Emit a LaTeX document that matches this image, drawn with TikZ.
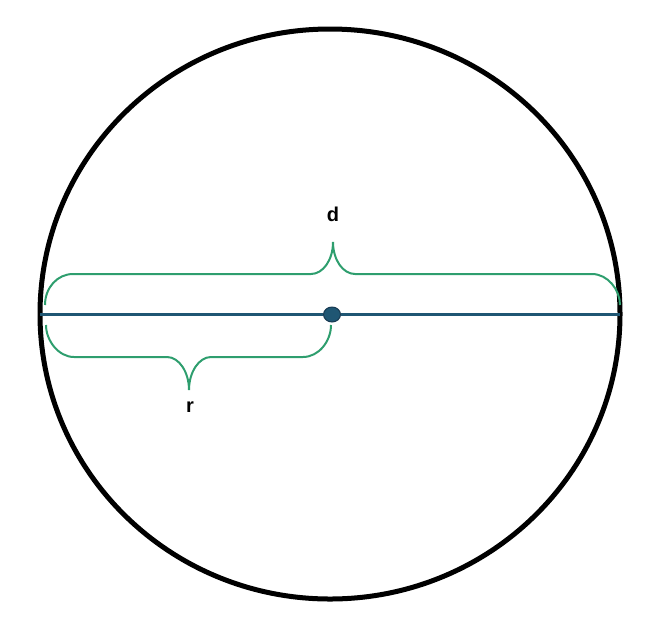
\documentclass[tikz,border=0pt]{standalone}
\usepackage{fontspec}
\setmainfont{Liberation Sans}
\usetikzlibrary{shapes.geometric}
\definecolor{gg}{RGB}{46, 158, 110}
\definecolor{bb}{RGB}{31, 86, 115}
\definecolor{bd}{RGB}{22, 56, 80}

\begin{document}
\begin{tikzpicture}[x=1pt, y=-1pt]
[every node/.style={inner sep=0pt}]
\useasboundingbox (0,0) rectangle (660,638);
\draw [line width=5pt, color=black] (330,314) ellipse [x radius=290, y radius=285];
\coordinate (a) at (40,314.5);
\coordinate (b) at (620,314.5);
\node (o) [ellipse, minimum width=17pt, minimum height=15pt, inner sep=0pt, fill=bb, draw=bd, line width=1pt] at (332,314.5) {};
\draw [line width=3pt, color=bb] (a) to (o);
\draw [line width=3pt, color=bb] (o) to (b);
\draw [line width=2pt, color=gg] (45,305) .. controls (45,287.5) and (57.5,274) .. (73,274) -- (311,274) .. controls (323,274) and (333,260) .. (333,242) .. controls (333,260) and (343,274) .. (355,274) -- (592,274) .. controls (607.5,274) and (620,289.5) .. (620,305);
\draw [line width=2pt, color=gg] (46,325) .. controls (46,340.5) and (58.5,357) .. (74,357) -- (167,357) .. controls (179,357) and (189,372) .. (189,390) .. controls (189,372) and (199,357) .. (211,357) -- (303,357) .. controls (318.5,357) and (331,341.5) .. (331,325);
\node (d) [inner sep=0pt, font=\bfseries\fontsize{20}{24}\selectfont] at (333,214) {d};
\node (r) [inner sep=0pt, font=\bfseries\fontsize{20}{24}\selectfont] at (190,407) {r};
\end{tikzpicture}
\end{document}
